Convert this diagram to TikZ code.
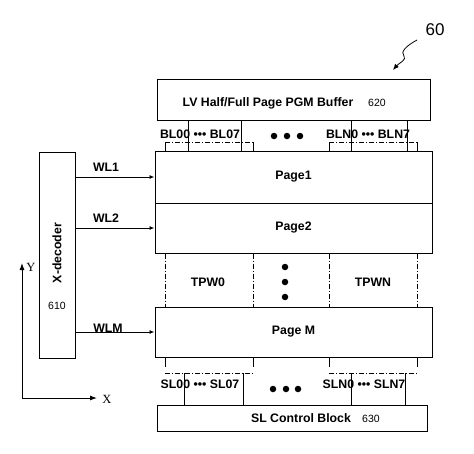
\documentclass[tikz,border=0pt]{standalone}
\usepackage{fontspec}
\setmainfont{Liberation Sans}
\newfontfamily\seriffont{Liberation Serif}
\usetikzlibrary{arrows.meta}
\begin{document}
\begin{tikzpicture}[x=1pt,y=-1pt,
 box/.style={draw, line width=1pt, inner sep=0pt},
 lbl/.style={font=\fontsize{12.3}{14}\selectfont\bfseries, inner sep=0pt},
 num/.style={font=\fontsize{10.5}{12}\selectfont, inner sep=0pt},
 ddline/.style={line width=0.7pt, dash pattern=on 5pt off 2pt on 1pt off 2pt},
 wire/.style={line width=0.9pt},
 bigdot/.style={circle, fill, inner sep=0pt, minimum size=6.5pt},
 wlarrow/.style={wire, -{Latex[length=5pt,width=4pt]}},
 axarrow/.style={wire, -{Latex[length=7pt,width=5pt]}}
]
\useasboundingbox (0,0) rectangle (474,453);

% boxes
\node[box, minimum width=273pt, minimum height=41pt] (buffer) at (293.5,99.5) {};
\node[lbl] (buftxt) at (268,103) {LV Half/Full Page PGM Buffer};
\node[num] (bufnum) at (377,103) {620};

\node[box, lbl, minimum width=277pt, minimum height=52pt] (page1) at (293.5,177) {Page1};
\node[box, lbl, minimum width=277pt, minimum height=50pt] (page2) at (293.5,228) {Page2};
\node[box, lbl, minimum width=277pt, minimum height=50pt] (pagem) at (293.5,332) {Page M};

\node[box, minimum width=270pt, minimum height=26pt] (slblock) at (292,418) {};
\node[lbl] (sltxt) at (301,418) {SL Control Block};
\node[num] (slnum) at (371,419) {630};

\node[box, minimum width=36pt, minimum height=206pt] (xdec) at (57,255) {};
\node[lbl, rotate=90] (xdectxt) at (57,253) {X-decoder};
\node[num] (xdecnum) at (57,306) {610};

% word lines
\draw[wlarrow] (xdec.east |- page1.west) -- (page1.west);
\draw[wlarrow] (xdec.east |- page2.west) -- (page2.west);
\draw[wlarrow] (xdec.east |- pagem.west) -- (pagem.west);
\node[lbl] (wl1) at (106,167.5) {WL1};
\node[lbl] (wl2) at (106,218) {WL2};
\node[lbl] (wlm) at (108,328) {WLM};

% bit lines (top)
\foreach \x in {188,241,351,407}
  \draw[wire] (\x,0 |- buffer.south) -- (\x,0 |- page1.north);
\foreach \x in {165,253,329,417}
  \draw[wire] (\x,142) -- (\x,0 |- page1.north);
\draw[ddline] (165,142) -- (253,142);
\draw[ddline] (329,142) -- (417,142);
\node[lbl] (bl0) at (200,134) {BL00 ••• BL07};
\node[lbl] (bln) at (368,134) {BLN0 ••• BLN7};
\node[bigdot] (td1) at (274,136) {};
\node[bigdot] (td2) at (287,136) {};
\node[bigdot] (td3) at (300,136) {};

% TPW region
\foreach \x in {165,253,329,417}
  \draw[ddline] (\x,0 |- page2.south) -- (\x,0 |- pagem.north);
\node[lbl] (tpw0) at (208,282) {TPW0};
\node[lbl] (tpwn) at (373,282) {TPWN};
\node[bigdot] (vd1) at (285,267) {};
\node[bigdot] (vd2) at (285,282) {};
\node[bigdot] (vd3) at (285,297) {};

% source lines (bottom)
\foreach \x in {165,253,329,417}
  \draw[wire] (\x,0 |- pagem.south) -- (\x,367);
\draw[ddline] (165,373) -- (253,373);
\draw[ddline] (329,373) -- (417,373);
\foreach \x in {184,243,351,405}
  \draw[wire] (\x,373) -- (\x,0 |- slblock.north);
\node[lbl] (sl0) at (200,384) {SL00 ••• SL07};
\node[lbl] (sln) at (364,384) {SLN0 ••• SLN7};
\node[bigdot] (bd1) at (273,389) {};
\node[bigdot] (bd2) at (286,389) {};
\node[bigdot] (bd3) at (298,389) {};

% axes
\coordinate (origin) at (22,398);
\coordinate (yend) at (22,263);
\coordinate (xend) at (97,398);
\draw[axarrow] (origin) -- (yend);
\draw[axarrow] (origin) -- (xend);
\node[font=\seriffont\fontsize{12.5}{14}\selectfont, inner sep=0pt] (ylbl) at (31,267) {Y};
\node[font=\seriffont\fontsize{12.5}{14}\selectfont, inner sep=0pt] (xlbl) at (107,399) {X};

% reference numeral
\node[font=\fontsize{17}{20}\selectfont, inner sep=0pt] (ref) at (435,30) {60};
\coordinate (rs) at (417,40);
\coordinate (re) at (393,70);
\draw[line width=0.8pt, -{Latex[length=6pt,width=5pt]}] (rs) .. controls (406,46) and (400,52) .. (404,56) .. controls (407,60) and (399,63) .. (re);
\end{tikzpicture}
\end{document}
